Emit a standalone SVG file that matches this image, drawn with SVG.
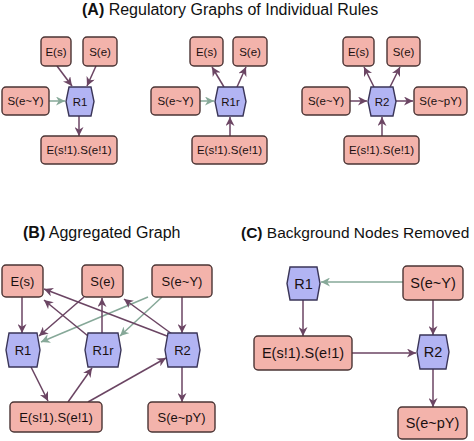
<svg xmlns="http://www.w3.org/2000/svg" width="474" height="441" viewBox="0 0 474 441">
<style>
.title{font-family:"Liberation Sans",Arial,sans-serif;font-size:16px;fill:#111}
.title tspan.b{font-weight:bold}
.sp rect{fill:#f3b3ab;stroke:#4a3434;stroke-width:1.4}
.rl path{fill:#b2b4f3;stroke:#3a3558;stroke-width:1.4}
.t{font-family:"Liberation Sans",Arial,sans-serif;fill:#1a1010;text-anchor:middle;dominant-baseline:central}
.a .t{font-size:11.5px}
.bb .t{font-size:13px}
.cc .t{font-size:14.5px}
.e{stroke:#6b4563;stroke-width:1.5;fill:none;marker-end:url(#ap)}
.g{stroke:#86a898;stroke-width:1.5;fill:none;marker-end:url(#ag)}
</style>
<defs>
<marker id="ap" viewBox="0 0 10 10" refX="10" refY="5" markerWidth="9" markerHeight="9" markerUnits="userSpaceOnUse" orient="auto"><path d="M0,0 L10,5 L0,10 L3,5 z" fill="#6b4563"/></marker>
<marker id="ag" viewBox="0 0 10 10" refX="10" refY="5" markerWidth="9" markerHeight="9" markerUnits="userSpaceOnUse" orient="auto"><path d="M0,0 L10,5 L0,10 L3,5 z" fill="#86a898"/></marker>
</defs>
<rect width="474" height="441" fill="#fff"/>
<text class="title" x="82" y="15"><tspan class="b">(A)</tspan> Regulatory Graphs of Individual Rules</text>
<text class="title" x="23" y="238"><tspan class="b">(B)</tspan> Aggregated Graph</text>
<text class="title" x="241" y="238" style="font-size:15.5px"><tspan class="b">(C)</tspan> Background Nodes Removed</text>

<g id="connectors">
<g class="a">
<line class="e" x1="57" y1="66" x2="72" y2="86"/>
<line class="e" x1="96" y1="66" x2="87" y2="86"/>
<line class="g" x1="49" y1="101" x2="65" y2="101"/>
<line class="e" x1="79" y1="116" x2="79" y2="136"/>
<line class="e" x1="224" y1="87" x2="212" y2="67"/>
<line class="e" x1="237" y1="87" x2="246" y2="67"/>
<line class="g" x1="200" y1="101" x2="214" y2="101"/>
<line class="e" x1="230" y1="136" x2="230" y2="117"/>
<line class="e" x1="374" y1="87" x2="364" y2="67"/>
<line class="e" x1="390" y1="87" x2="400" y2="67"/>
<line class="e" x1="350" y1="101" x2="367" y2="101"/>
<line class="e" x1="396" y1="101" x2="413" y2="101"/>
<line class="e" x1="382" y1="136" x2="382" y2="117"/>
</g>
<g class="bb">
<line class="e" x1="22" y1="297" x2="22" y2="333"/>
<line class="e" x1="84" y1="297" x2="39" y2="336"/>
<line class="g" x1="148" y1="297" x2="41" y2="342"/>
<line class="g" x1="162" y1="297" x2="120" y2="336"/>
<line class="e" x1="88" y1="336" x2="44" y2="300"/>
<line class="e" x1="102" y1="333" x2="102" y2="298"/>
<line class="e" x1="167" y1="336" x2="44" y2="289"/>
<line class="e" x1="172" y1="334" x2="124" y2="299"/>
<line class="e" x1="182" y1="297" x2="182" y2="333"/>
<line class="e" x1="31" y1="367" x2="48" y2="401"/>
<line class="e" x1="68" y1="402" x2="92" y2="368"/>
<line class="e" x1="88" y1="402" x2="166" y2="358"/>
<line class="e" x1="182" y1="367" x2="182" y2="402"/>
</g>
<g class="cc">
<line class="g" x1="403" y1="282" x2="321" y2="282"/>
<line class="e" x1="303" y1="300" x2="303" y2="336"/>
<line class="e" x1="433" y1="300" x2="433" y2="335"/>
<line class="e" x1="352" y1="353" x2="416" y2="353"/>
<line class="e" x1="433" y1="369" x2="433" y2="407"/>
</g>
</g>

<g class="a">
<g id="a1-es" class="sp"><rect x="41" y="37" width="30" height="29" rx="4"/><text class="t" x="56" y="52">E(s)</text></g>
<g id="a1-se" class="sp"><rect x="83" y="37" width="34" height="29" rx="4"/><text class="t" x="100" y="52">S(e)</text></g>
<g id="a1-sey" class="sp"><rect x="2" y="87" width="47" height="28" rx="4"/><text class="t" x="25.5" y="101">S(e~Y)</text></g>
<g id="a1-r1" class="rl"><path d="M69,87 H91 L94,101.5 L91,116 H69 L66,101.5 Z"/><text class="t" x="80" y="101.5">R1</text></g>
<g id="a1-es1" class="sp"><rect x="41" y="136" width="76" height="28" rx="4"/><text class="t" x="79" y="150">E(s!1).S(e!1)</text></g>

<g id="a2-es" class="sp"><rect x="190" y="37" width="33" height="29" rx="4"/><text class="t" x="206.5" y="52">E(s)</text></g>
<g id="a2-se" class="sp"><rect x="233" y="37" width="34" height="29" rx="4"/><text class="t" x="250" y="52">S(e)</text></g>
<g id="a2-sey" class="sp"><rect x="151" y="87" width="49" height="28" rx="4"/><text class="t" x="175.5" y="101">S(e~Y)</text></g>
<g id="a2-r1r" class="rl"><path d="M218,87 H243 L246,101.5 L243,116 H218 L215,101.5 Z"/><text class="t" x="230.5" y="101.5">R1r</text></g>
<g id="a2-es1" class="sp"><rect x="192" y="136" width="75" height="28" rx="4"/><text class="t" x="229.5" y="150">E(s!1).S(e!1)</text></g>

<g id="a3-es" class="sp"><rect x="343" y="37" width="31" height="29" rx="4"/><text class="t" x="358.5" y="52">E(s)</text></g>
<g id="a3-se" class="sp"><rect x="387" y="37" width="33" height="29" rx="4"/><text class="t" x="403.5" y="52">S(e)</text></g>
<g id="a3-sey" class="sp"><rect x="302" y="87" width="48" height="28" rx="4"/><text class="t" x="326" y="101">S(e~Y)</text></g>
<g id="a3-r2" class="rl"><path d="M371,87 H393 L396,101.5 L393,116 H371 L368,101.5 Z"/><text class="t" x="382" y="101.5">R2</text></g>
<g id="a3-sepy" class="sp"><rect x="414" y="87" width="53" height="28" rx="4"/><text class="t" x="440.5" y="101">S(e~pY)</text></g>
<g id="a3-es1" class="sp"><rect x="344" y="136" width="75" height="28" rx="4"/><text class="t" x="381.5" y="150">E(s!1).S(e!1)</text></g>
</g>

<g class="bb">
<g id="b-es" class="sp"><rect x="2" y="265" width="41" height="32" rx="4"/><text class="t" x="22.5" y="281">E(s)</text></g>
<g id="b-se" class="sp"><rect x="82" y="265" width="41" height="32" rx="4"/><text class="t" x="102.5" y="281">S(e)</text></g>
<g id="b-sey" class="sp"><rect x="152" y="265" width="60" height="32" rx="4"/><text class="t" x="182" y="281">S(e~Y)</text></g>
<g id="b-r1" class="rl"><path d="M9,333 H37 L40,350 L37,367 H9 L6,350 Z"/><text class="t" x="23" y="350">R1</text></g>
<g id="b-r1r" class="rl"><path d="M88,333 H118 L121,350 L118,367 H88 L85,350 Z"/><text class="t" x="103" y="350">R1r</text></g>
<g id="b-r2" class="rl"><path d="M168,333 H197 L200,350 L197,367 H168 L165,350 Z"/><text class="t" x="182.5" y="350">R2</text></g>
<g id="b-es1" class="sp"><rect x="10" y="402" width="92" height="30" rx="4"/><text class="t" x="56" y="417">E(s!1).S(e!1)</text></g>
<g id="b-sepy" class="sp"><rect x="148" y="402" width="67" height="30" rx="4"/><text class="t" x="181.5" y="417">S(e~pY)</text></g>
</g>

<g class="cc">
<g id="c-r1" class="rl"><path d="M290,267 H317 L320,283.5 L317,300 H290 L287,283.5 Z"/><text class="t" x="303.5" y="283.5">R1</text></g>
<g id="c-sey" class="sp"><rect x="403" y="266" width="60" height="34" rx="4"/><text class="t" x="433" y="283">S(e~Y)</text></g>
<g id="c-es1" class="sp"><rect x="254" y="336" width="98" height="34" rx="4"/><text class="t" x="303" y="353">E(s!1).S(e!1)</text></g>
<g id="c-r2" class="rl"><path d="M420,335 H446 L449,352 L446,369 H420 L417,352 Z"/><text class="t" x="433" y="352">R2</text></g>
<g id="c-sepy" class="sp"><rect x="398" y="407" width="69" height="32" rx="4"/><text class="t" x="432.5" y="423">S(e~pY)</text></g>
</g>
</svg>
